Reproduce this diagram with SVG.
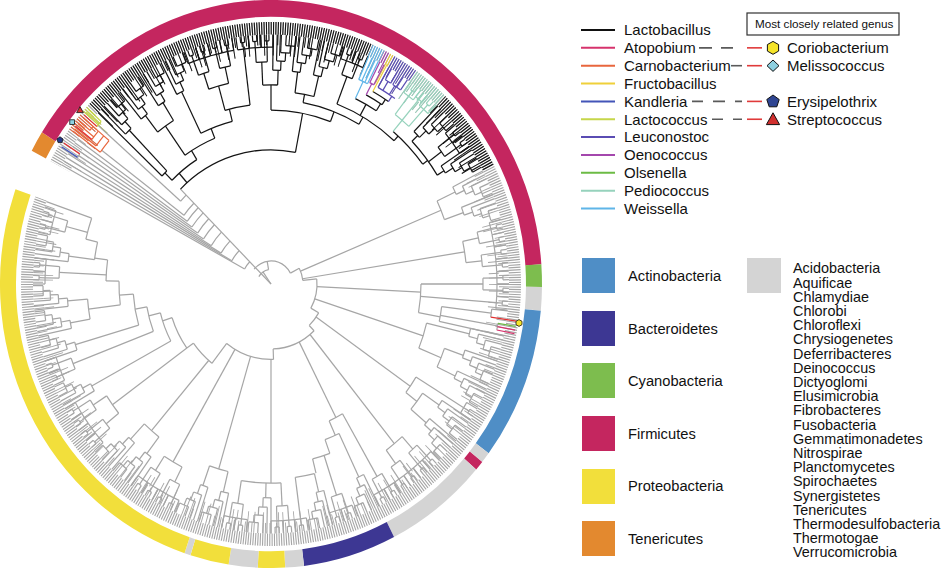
<svg xmlns="http://www.w3.org/2000/svg" width="946" height="568" viewBox="0 0 946 568">
<style>
text{font-family:"Liberation Sans",Arial,Helvetica,sans-serif;fill:#111}
.lg{font-size:15px}
.ph{font-size:14.7px}
.sm{font-size:14.4px}
.g{stroke:#a6a6a6}
.k{stroke:#141414}
.dg{stroke:#5a5a5a;stroke-width:1.6;fill:none}
.dr{stroke:#e03a3a;stroke-width:1.6;fill:none}
.mk{stroke:#111;stroke-width:1}
.mt{stroke:#111;stroke-width:0.8}
</style>
<defs>
<g id="m2"><circle r="230" pathLength="360" stroke-dasharray="2 360"/><path d="M230 0H238"/><path d="M230 0H238" transform="rotate(1)"/><path d="M230 0H238" transform="rotate(2)"/></g>
<g id="m3"><circle r="226" pathLength="360" stroke-dasharray="3 360"/><path d="M226 0H238"/><path d="M226 0H232" transform="rotate(1.5)"/><circle r="232" pathLength="360" stroke-dasharray="1 360" transform="rotate(1)"/><path d="M232 0H238" transform="rotate(1)"/><path d="M232 0H238" transform="rotate(2)"/><path d="M226 0H238" transform="rotate(3)"/></g>
<g id="m6"><circle r="212" pathLength="360" stroke-dasharray="3 360" transform="rotate(1.5)"/><path d="M212 0H226" transform="rotate(1.5)"/><path d="M212 0H226" transform="rotate(4.5)"/><use href="#m3"/><use href="#m3" transform="rotate(3)"/></g>
<g id="m12"><circle r="196" pathLength="360" stroke-dasharray="6 360" transform="rotate(3)"/><path d="M196 0H212" transform="rotate(3)"/><path d="M196 0H212" transform="rotate(9)"/><use href="#m6"/><use href="#m6" transform="rotate(6)"/></g>
<g id="l6"><circle r="204" pathLength="360" stroke-dasharray="2.2 360"/><path d="M204 0H238"/><path d="M204 0H213" transform="rotate(2.2)"/><circle r="213" pathLength="360" stroke-dasharray="2.3 360" transform="rotate(1)"/><path d="M213 0H238" transform="rotate(1)"/><path d="M213 0H221" transform="rotate(3.3)"/><circle r="221" pathLength="360" stroke-dasharray="2.4 360" transform="rotate(2)"/><path d="M221 0H238" transform="rotate(2)"/><path d="M221 0H228" transform="rotate(4.4)"/><circle r="228" pathLength="360" stroke-dasharray="2.4 360" transform="rotate(3.2)"/><path d="M228 0H238" transform="rotate(3.2)"/><path d="M228 0H238" transform="rotate(5.6)"/></g>
<g id="l12"><circle r="184" pathLength="360" stroke-dasharray="6 360" transform="rotate(1.5)"/><path d="M184 0H204" transform="rotate(1.5)"/><path d="M184 0H204" transform="rotate(7.5)"/><use href="#l6"/><use href="#l6" transform="rotate(6)"/></g>
<g id="fr" fill="none">
<circle r="244" stroke-width="12" pathLength="360" stroke-dasharray="0.26 0.3"/>
<circle r="233" stroke-width="10" pathLength="360" stroke-dasharray="0.22 0.34 0.22 0.9 0.22 0.34 0.22 1.46 0.22 0.9 0.22 0.34 0.22 2.02"/>
<circle r="223" stroke-width="10" pathLength="360" stroke-dasharray="0.22 1.46 0.22 2.58 0.22 0.9 0.22 3.7 0.22 2.02"/>
</g>
<mask id="mG" maskUnits="userSpaceOnUse" x="-300" y="-300" width="600" height="600"><circle r="235" fill="none" stroke="#fff" stroke-width="40" pathLength="360" stroke-dasharray="351.5 360" transform="rotate(-152)"/></mask>
<mask id="mK" maskUnits="userSpaceOnUse" x="-300" y="-300" width="600" height="600"><circle r="235" fill="none" stroke="#fff" stroke-width="40" pathLength="360" stroke-dasharray="70.8 360" transform="rotate(-136.8)"/><circle r="235" fill="none" stroke="#fff" stroke-width="40" pathLength="360" stroke-dasharray="18.8 360" transform="rotate(-45.8)"/></mask>
<mask id="mW" maskUnits="userSpaceOnUse" x="-300" y="-300" width="600" height="600"><circle r="235" fill="none" stroke="#fff" stroke-width="40" pathLength="360" stroke-dasharray="3 360" transform="rotate(-66)"/></mask>
<mask id="mO" maskUnits="userSpaceOnUse" x="-300" y="-300" width="600" height="600"><circle r="235" fill="none" stroke="#fff" stroke-width="40" pathLength="360" stroke-dasharray="1.4 360" transform="rotate(-63)"/></mask>
<mask id="mF" maskUnits="userSpaceOnUse" x="-300" y="-300" width="600" height="600"><circle r="235" fill="none" stroke="#fff" stroke-width="40" pathLength="360" stroke-dasharray="1 360" transform="rotate(-61.6)"/></mask>
<mask id="mL" maskUnits="userSpaceOnUse" x="-300" y="-300" width="600" height="600"><circle r="235" fill="none" stroke="#fff" stroke-width="40" pathLength="360" stroke-dasharray="6.2 360" transform="rotate(-60.6)"/></mask>
<mask id="mP" maskUnits="userSpaceOnUse" x="-300" y="-300" width="600" height="600"><circle r="235" fill="none" stroke="#fff" stroke-width="40" pathLength="360" stroke-dasharray="8.6 360" transform="rotate(-54.4)"/></mask>
<mask id="mC" maskUnits="userSpaceOnUse" x="-300" y="-300" width="600" height="600"><circle r="235" fill="none" stroke="#fff" stroke-width="40" pathLength="360" stroke-dasharray="4.2 360" transform="rotate(-143.8)"/></mask>
<mask id="mLc" maskUnits="userSpaceOnUse" x="-300" y="-300" width="600" height="600"><circle r="235" fill="none" stroke="#fff" stroke-width="40" pathLength="360" stroke-dasharray="1.8 360" transform="rotate(-139)"/></mask>
</defs>

<g id="ring" transform="translate(271,284) scale(1,1.048)" fill="none" stroke-width="16">
<circle r="263" pathLength="360" stroke="#e3892f" stroke-dasharray="4.3 360" transform="rotate(-152)"/>
<circle r="263" pathLength="360" stroke="#c4265f" stroke-dasharray="143.7 360" transform="rotate(-147.7)"/>
<circle r="263" pathLength="360" stroke="#7dbd4e" stroke-dasharray="4.6 360" transform="rotate(-4)"/>
<circle r="263" pathLength="360" stroke="#d4d4d4" stroke-dasharray="4.8 360" transform="rotate(0.6)"/>
<circle r="263" pathLength="360" stroke="#4f8ec6" stroke-dasharray="31.2 360" transform="rotate(5.4)"/>
<circle r="263" pathLength="360" stroke="#d4d4d4" stroke-dasharray="2.2 360" transform="rotate(36.6)"/>
<circle r="263" pathLength="360" stroke="#c4265f" stroke-dasharray="2 360" transform="rotate(38.8)"/>
<circle r="263" pathLength="360" stroke="#d4d4d4" stroke-dasharray="22.2 360" transform="rotate(40.8)"/>
<circle r="263" pathLength="360" stroke="#3d3793" stroke-dasharray="20 360" transform="rotate(63)"/>
<circle r="263" pathLength="360" stroke="#d4d4d4" stroke-dasharray="4 360" transform="rotate(83)"/>
<circle r="263" pathLength="360" stroke="#f2df3b" stroke-dasharray="5.8 360" transform="rotate(87)"/>
<circle r="263" pathLength="360" stroke="#d4d4d4" stroke-dasharray="6.2 360" transform="rotate(92.8)"/>
<circle r="263" pathLength="360" stroke="#f2df3b" stroke-dasharray="8.3 360" transform="rotate(99)"/>
<circle r="263" pathLength="360" stroke="#d4d4d4" stroke-dasharray="1.3 360" transform="rotate(107.3)"/>
<circle r="263" pathLength="360" stroke="#f2df3b" stroke-dasharray="90.9 360" transform="rotate(108.6)"/>
</g>

<g id="fringe" transform="translate(271,284) scale(1,1.048)">
<use href="#fr" class="g" mask="url(#mG)"/>
<use href="#fr" class="k" mask="url(#mK)"/>
<use href="#fr" stroke="#5fb5e8" mask="url(#mW)"/>
<use href="#fr" stroke="#a447ad" mask="url(#mO)"/>
<use href="#fr" stroke="#efd03a" mask="url(#mF)"/>
<use href="#fr" stroke="#5a4cb3" mask="url(#mL)"/>
<use href="#fr" stroke="#96d2bc" mask="url(#mP)"/>
<use href="#fr" stroke="#e8663d" mask="url(#mC)"/>
<use href="#fr" stroke="#c6d64a" mask="url(#mLc)"/>
</g>

<g id="tree" transform="translate(271,284) scale(1,1.048)" fill="none" stroke-width="1.2">
<g class="g">
<circle r="22" pathLength="360" stroke-dasharray="112 360" transform="rotate(-140)"/>
<circle r="14" pathLength="360" stroke-dasharray="50 360" transform="rotate(-150)"/>
<path d="M14 0H22" transform="rotate(-100)"/>
<path d="M0 0H14" transform="rotate(-125)"/>
<path d="M0 0H128" transform="rotate(-135)"/>
<circle r="30" pathLength="360" stroke-dasharray="16.5 360" transform="rotate(-151.5)"/><path d="M30 0H238" transform="rotate(-151.5)"/>
<circle r="45" pathLength="360" stroke-dasharray="15.5 360" transform="rotate(-150.5)"/><path d="M45 0H238" transform="rotate(-150.5)"/>
<circle r="58" pathLength="360" stroke-dasharray="14.5 360" transform="rotate(-149.5)"/><path d="M58 0H238" transform="rotate(-149.5)"/>
<circle r="70" pathLength="360" stroke-dasharray="13.5 360" transform="rotate(-148.5)"/><path d="M70 0H238" transform="rotate(-148.5)"/>
<circle r="80" pathLength="360" stroke-dasharray="12.5 360" transform="rotate(-147.5)"/><path d="M80 0H228" transform="rotate(-147.5)"/>
<circle r="228" pathLength="360" stroke-dasharray="1 360" transform="rotate(-148)"/>
<circle r="88" pathLength="360" stroke-dasharray="11.5 360" transform="rotate(-146.5)"/><path d="M88 0H238" transform="rotate(-146.5)"/>
<circle r="96" pathLength="360" stroke-dasharray="10.5 360" transform="rotate(-145.5)"/><path d="M96 0H238" transform="rotate(-145.5)"/>
<circle r="103" pathLength="360" stroke-dasharray="9.5 360" transform="rotate(-144.5)"/><path d="M103 0H238" transform="rotate(-144.5)"/>
<circle r="109" pathLength="360" stroke-dasharray="8 360" transform="rotate(-143)"/><path d="M109 0H212" transform="rotate(-143)"/>
<circle r="120" pathLength="360" stroke-dasharray="3.8 360" transform="rotate(-138.8)"/><path d="M120 0H230" transform="rotate(-138.8)"/>

<path d="M22 0H32" transform="rotate(-28)"/>
<circle r="32" pathLength="360" stroke-dasharray="22 360" transform="rotate(-28)"/>
<path d="M32 0H184" transform="rotate(-22.5)"/><use href="#l12" transform="rotate(-27)"/>
<path d="M32 0H196" transform="rotate(-9)"/><use href="#m12" transform="rotate(-15)"/>
<path d="M32 0H46" transform="rotate(-6)"/>
<circle r="46" pathLength="360" stroke-dasharray="36 360" transform="rotate(-6)"/>
<path d="M46 0H150" transform="rotate(3)"/>
<circle r="150" pathLength="360" stroke-dasharray="10.5 360"/>
<path d="M150 0H212"/><use href="#m6" transform="rotate(-3)"/>
<path d="M150 0H226" transform="rotate(4.5)"/><use href="#m3" transform="rotate(3)"/>
<path d="M150 0H172" transform="rotate(10.5)"/>
<circle r="172" pathLength="360" stroke-dasharray="4.8 360" transform="rotate(7.2)"/>
<path d="M172 0H222" transform="rotate(7.2)"/>
<circle r="222" pathLength="360" stroke-dasharray="2 360" transform="rotate(6.2)"/>
<path d="M222 0H238" transform="rotate(6.2)"/>
<path d="M172 0H230" transform="rotate(10)"/>
<circle r="230" pathLength="360" stroke-dasharray="1.6 360" transform="rotate(9.4)"/>
<path d="M172 0H238" transform="rotate(12)"/>
<path d="M46 0H160" transform="rotate(18)"/>
<circle r="160" pathLength="360" stroke-dasharray="9 360" transform="rotate(13.5)"/>
<path d="M160 0H204" transform="rotate(13.5)"/><use href="#l6" transform="rotate(12)"/>
<path d="M160 0H184" transform="rotate(22.5)"/><use href="#l12" transform="rotate(18)"/>
<path d="M46 0H55" transform="rotate(30)"/>
<circle r="55" pathLength="360" stroke-dasharray="16 360" transform="rotate(30)"/>
<path d="M55 0H170" transform="rotate(35)"/>
<circle r="170" pathLength="360" stroke-dasharray="6 360" transform="rotate(31.5)"/>
<path d="M170 0H226" transform="rotate(31.5)"/><use href="#m3" transform="rotate(30)"/>
<path d="M170 0H184" transform="rotate(37.5)"/><use href="#l12" transform="rotate(33)"/>
<path d="M55 0H62" transform="rotate(46)"/>
<circle r="62" pathLength="360" stroke-dasharray="42 360" transform="rotate(46)"/>
<path d="M62 0H196" transform="rotate(51)"/><use href="#m12" transform="rotate(45)"/>
<path d="M62 0H143" transform="rotate(63)"/>
<circle r="143" pathLength="360" stroke-dasharray="6 360" transform="rotate(60)"/>
<path d="M143 0H212" transform="rotate(60)"/><use href="#m6" transform="rotate(57)"/>
<path d="M143 0H158" transform="rotate(66)"/>
<circle r="158" pathLength="360" stroke-dasharray="5.5 360" transform="rotate(64.5)"/>
<path d="M158 0H204" transform="rotate(64.5)"/><use href="#l6" transform="rotate(63)"/>
<path d="M158 0H172" transform="rotate(70)"/>
<circle r="172" pathLength="360" stroke-dasharray="6 360" transform="rotate(70)"/>
<path d="M172 0H212" transform="rotate(72)"/><use href="#m6" transform="rotate(69)"/>
<path d="M172 0H186" transform="rotate(76)"/>
<circle r="186" pathLength="360" stroke-dasharray="6 360" transform="rotate(76.5)"/>
<path d="M186 0H204" transform="rotate(76.5)"/><use href="#l6" transform="rotate(75)"/>
<path d="M186 0H226" transform="rotate(82.5)"/><use href="#m3" transform="rotate(81)"/>
<path d="M62 0H72" transform="rotate(88)"/>
<circle r="72" pathLength="360" stroke-dasharray="40 360" transform="rotate(88)"/>
<path d="M72 0H190" transform="rotate(90)"/>
<circle r="190" pathLength="360" stroke-dasharray="12 360" transform="rotate(87)"/>
<path d="M190 0H212" transform="rotate(87)"/><use href="#m6" transform="rotate(84)"/>
<path d="M190 0H204" transform="rotate(91.5)"/><use href="#l6" transform="rotate(90)"/>
<path d="M190 0H212" transform="rotate(99)"/><use href="#m6" transform="rotate(96)"/>
<path d="M72 0H184" transform="rotate(106.5)"/><use href="#l12" transform="rotate(102)"/>
<path d="M72 0H196" transform="rotate(120)"/><use href="#m12" transform="rotate(114)"/>
<path d="M72 0H96" transform="rotate(128)"/>
<circle r="96" pathLength="360" stroke-dasharray="16 360" transform="rotate(128)"/>
<path d="M96 0H184" transform="rotate(130.5)"/><use href="#l12" transform="rotate(126)"/>
<path d="M96 0H104" transform="rotate(144)"/>
<circle r="104" pathLength="360" stroke-dasharray="18 360" transform="rotate(144)"/>
<path d="M104 0H196" transform="rotate(144)"/><use href="#m12" transform="rotate(138)"/>
<path d="M104 0H114" transform="rotate(162)"/>
<circle r="114" pathLength="360" stroke-dasharray="14.5 360" transform="rotate(151.5)"/>
<path d="M114 0H204" transform="rotate(151.5)"/><use href="#l6" transform="rotate(150)"/>
<path d="M114 0H126" transform="rotate(166)"/>
<circle r="126" pathLength="360" stroke-dasharray="11 360" transform="rotate(159)"/>
<path d="M126 0H212" transform="rotate(159)"/><use href="#m6" transform="rotate(156)"/>
<path d="M126 0H138" transform="rotate(170)"/>
<circle r="138" pathLength="360" stroke-dasharray="12.5 360" transform="rotate(163.5)"/>
<path d="M138 0H204" transform="rotate(163.5)"/><use href="#l6" transform="rotate(162)"/>
<path d="M138 0H152" transform="rotate(176)"/>
<circle r="152" pathLength="360" stroke-dasharray="8.5 360" transform="rotate(172.5)"/>
<path d="M152 0H184" transform="rotate(172.5)"/><use href="#l12" transform="rotate(168)"/>
<path d="M152 0H165" transform="rotate(181)"/>
<circle r="165" pathLength="360" stroke-dasharray="7 360" transform="rotate(181)"/>
<path d="M165 0H212" transform="rotate(183)"/><use href="#m6" transform="rotate(180)"/>
<path d="M165 0H178" transform="rotate(188)"/>
<circle r="178" pathLength="360" stroke-dasharray="5.5 360" transform="rotate(187.5)"/>
<path d="M178 0H204" transform="rotate(187.5)"/><use href="#l6" transform="rotate(186)"/>
<path d="M178 0H190" transform="rotate(193)"/>
<circle r="190" pathLength="360" stroke-dasharray="6.3 360" transform="rotate(193)"/>
<path d="M190 0H212" transform="rotate(195)"/><use href="#m6" transform="rotate(192)"/>
<path d="M190 0H238" transform="rotate(199.3)"/>
</g>

<g class="k">
<circle r="128" pathLength="360" stroke-dasharray="56 360" transform="rotate(-135)"/>
<path d="M128 0H140" transform="rotate(-131)"/>
<circle r="140" pathLength="360" stroke-dasharray="13 360" transform="rotate(-135)"/>
<path d="M140 0H150" transform="rotate(-135)"/>
<circle r="150" pathLength="360" stroke-dasharray="2.6 360" transform="rotate(-136.6)"/>
<path d="M150 0H238" transform="rotate(-136.6)"/>
<path d="M150 0H204" transform="rotate(-134)"/><use href="#l6" transform="rotate(-135.5)"/>
<path d="M140 0H150" transform="rotate(-122)"/>
<circle r="150" pathLength="360" stroke-dasharray="13 360" transform="rotate(-125)"/>
<path d="M150 0H184" transform="rotate(-125)"/><use href="#l12" transform="rotate(-129.5)"/>
<path d="M150 0H160" transform="rotate(-112)"/>
<circle r="160" pathLength="360" stroke-dasharray="12 360" transform="rotate(-116)"/>
<path d="M160 0H204" transform="rotate(-116)"/><use href="#l6" transform="rotate(-117.5)"/>
<path d="M160 0H172" transform="rotate(-104)"/>
<circle r="172" pathLength="360" stroke-dasharray="8.5 360" transform="rotate(-105.5)"/>
<path d="M172 0H196" transform="rotate(-105.5)"/><use href="#m12" transform="rotate(-111.5)"/>
<path d="M172 0H226" transform="rotate(-97)"/><use href="#m3" transform="rotate(-98.5)"/>
<path d="M128 0H166" transform="rotate(-79)"/>
<circle r="166" pathLength="360" stroke-dasharray="21 360" transform="rotate(-90)"/>
<path d="M166 0H190" transform="rotate(-90)"/>
<circle r="190" pathLength="360" stroke-dasharray="4.5 360" transform="rotate(-92.5)"/>
<path d="M190 0H212" transform="rotate(-92.5)"/><use href="#m6" transform="rotate(-95.5)"/>
<path d="M190 0H204" transform="rotate(-88)"/><use href="#l6" transform="rotate(-89.5)"/>
<path d="M166 0H176" transform="rotate(-69)"/>
<circle r="176" pathLength="360" stroke-dasharray="19.5 360" transform="rotate(-79.5)"/>
<path d="M176 0H184" transform="rotate(-79.5)"/><use href="#l12" transform="rotate(-84)"/>
<path d="M176 0H184" transform="rotate(-60)"/>
<circle r="184" pathLength="360" stroke-dasharray="21 360" transform="rotate(-69)"/>
<path d="M184 0H212" transform="rotate(-69)"/><use href="#m6" transform="rotate(-72)"/>
<path d="M184 0H196" transform="rotate(-61)"/>
<circle r="196" pathLength="360" stroke-dasharray="7 360" transform="rotate(-64.5)"/>
<path d="M196 0H204" transform="rotate(-57.5)"/>
<circle r="204" pathLength="360" stroke-dasharray="5.2 360" transform="rotate(-62.2)"/>
<path d="M204 0H210" transform="rotate(-57)"/>
<circle r="210" pathLength="360" stroke-dasharray="5 360" transform="rotate(-61)"/>
<path d="M184 0H190" transform="rotate(-48)"/>
<circle r="190" pathLength="360" stroke-dasharray="13 360" transform="rotate(-50)"/>
<path d="M190 0H196" transform="rotate(-37)"/>
<circle r="196" pathLength="360" stroke-dasharray="12 360" transform="rotate(-44)"/>
<path d="M196 0H204" transform="rotate(-44)"/><use href="#l6" transform="rotate(-45.5)"/>
<path d="M196 0H212" transform="rotate(-36.5)"/><use href="#m6" transform="rotate(-39.5)"/>
<path d="M196 0H204" transform="rotate(-32)"/><use href="#l6" transform="rotate(-33.5)"/>
</g>

<g stroke="#5fb5e8"><path d="M196 0H214" transform="rotate(-64.5)"/><circle r="214" pathLength="360" stroke-dasharray="2.6 360" transform="rotate(-65.8)"/><path d="M214 0H238" transform="rotate(-65.8)"/><path d="M214 0H238" transform="rotate(-64.9)"/><path d="M214 0H238" transform="rotate(-64)"/><path d="M214 0H238" transform="rotate(-63.2)"/></g>
<g stroke="#a447ad"><path d="M204 0H216" transform="rotate(-62.2)"/><circle r="216" pathLength="360" stroke-dasharray="1.2 360" transform="rotate(-62.8)"/><path d="M216 0H238" transform="rotate(-62.8)"/><path d="M216 0H238" transform="rotate(-61.6)"/></g>
<g stroke="#efd03a"><path d="M210 0H240" transform="rotate(-61)"/></g>
<g stroke="#5a4cb3"><path d="M210 0H216" transform="rotate(-56)"/><circle r="216" pathLength="360" stroke-dasharray="5.3 360" transform="rotate(-60.3)"/><path d="M216 0H238" transform="rotate(-60.3)"/><path d="M216 0H226" transform="rotate(-58.8)"/><circle r="226" pathLength="360" stroke-dasharray="1.6 360" transform="rotate(-59.6)"/><path d="M226 0H238" transform="rotate(-59.6)"/><path d="M226 0H238" transform="rotate(-58)"/><path d="M216 0H226" transform="rotate(-56.8)"/><circle r="226" pathLength="360" stroke-dasharray="2.4 360" transform="rotate(-57.4)"/><path d="M226 0H238" transform="rotate(-57.4)"/><path d="M226 0H238" transform="rotate(-56.2)"/><path d="M226 0H238" transform="rotate(-55)"/></g>
<g stroke="#96d2bc"><path d="M190 0H204" transform="rotate(-50)"/><circle r="204" pathLength="360" stroke-dasharray="5 360" transform="rotate(-52.5)"/><path d="M204 0H226" transform="rotate(-52.5)"/><use href="#m3" transform="rotate(-54)"/><path d="M204 0H230" transform="rotate(-50)"/><use href="#m2" transform="rotate(-51)"/><path d="M204 0H226" transform="rotate(-47.5)"/><use href="#m3" transform="rotate(-49)"/></g>
<g stroke="#e8663d"><circle r="212" pathLength="360" stroke-dasharray="3.8 360" transform="rotate(-143.6)"/><path d="M212 0H246" transform="rotate(-143.6)"/><path d="M212 0H219" transform="rotate(-139.8)"/><circle r="219" pathLength="360" stroke-dasharray="3.2 360" transform="rotate(-143)"/><path d="M219 0H246" transform="rotate(-143)"/><path d="M219 0H226" transform="rotate(-139.8)"/><circle r="226" pathLength="360" stroke-dasharray="2.6 360" transform="rotate(-142.4)"/><path d="M226 0H246" transform="rotate(-141.6)"/><path d="M226 0H233" transform="rotate(-139.8)"/><circle r="233" pathLength="360" stroke-dasharray="1.2 360" transform="rotate(-141)"/><path d="M233 0H246" transform="rotate(-141)"/><path d="M233 0H246" transform="rotate(-139.8)"/></g>
<g stroke="#c6d64a"><circle r="230" pathLength="360" stroke-dasharray="1.6 360" transform="rotate(-139.2)"/><path d="M230 0H247" transform="rotate(-138.4)"/><path d="M230 0H247" transform="rotate(-137.6)"/></g>
<g stroke="#4355b8"><path d="M228 0H247" transform="rotate(-148)"/></g>
<g stroke="#e03030"><path d="M228 0H247" transform="rotate(-147)"/><path d="M226 0H247" transform="rotate(-142.4)"/><path d="M230 0H247" transform="rotate(-139.2)"/><path d="M222 0H248" transform="rotate(8.2)"/></g>
<g stroke="#6cbb45"><path d="M230 0H248" transform="rotate(9.4)"/></g>
<g stroke="#d6336c"><path d="M230 0H248" transform="rotate(10.2)"/><path d="M230 0H248" transform="rotate(11)"/></g>
</g>

<g id="tree-markers" class="mt">
<polygon points="80,106.6 83.4,112.6 76.6,112.6" fill="#d63030"/>
<rect x="69.8" y="119.8" width="4.6" height="4.6" fill="#8fd3e3"/>
<polygon points="60,136.8 63.1,139 61.9,142.6 58.1,142.6 56.9,139" fill="#263a8a"/>
<polygon points="519,319.6 522,321.3 522,324.7 519,326.4 516,324.7 516,321.3" fill="#f5e42a"/>
</g>

<g id="legend-genus">
<path d="M581 30H615" stroke="#111" stroke-width="2"/><text class="lg" x="624" y="35.3">Lactobacillus</text>
<path d="M581 47.85H615" stroke="#d6336c" stroke-width="2"/><text class="lg" x="624" y="53.1">Atopobium</text>
<path d="M581 65.7H615" stroke="#e8663d" stroke-width="2"/><text class="lg" x="624" y="71">Carnobacterium</text>
<path d="M581 83.55H615" stroke="#efd03a" stroke-width="2"/><text class="lg" x="624" y="88.8">Fructobacillus</text>
<path d="M581 101.4H615" stroke="#4355b8" stroke-width="2"/><text class="lg" x="624" y="106.7">Kandleria</text>
<path d="M581 119.25H615" stroke="#c6d64a" stroke-width="2"/><text class="lg" x="624" y="124.5">Lactococcus</text>
<path d="M581 137.1H615" stroke="#5a4cb3" stroke-width="2"/><text class="lg" x="624" y="142.4">Leuconostoc</text>
<path d="M581 154.95H615" stroke="#a447ad" stroke-width="2"/><text class="lg" x="624" y="160.2">Oenococcus</text>
<path d="M581 172.8H615" stroke="#6cbb45" stroke-width="2"/><text class="lg" x="624" y="178.1">Olsenella</text>
<path d="M581 190.65H615" stroke="#96d2bc" stroke-width="2"/><text class="lg" x="624" y="195.9">Pediococcus</text>
<path d="M581 208.5H615" stroke="#5fb5e8" stroke-width="2"/><text class="lg" x="624" y="213.8">Weissella</text>
</g>

<g id="legend-related">
<rect x="747" y="13" width="152" height="22" fill="none" stroke="#333" stroke-width="1.2"/>
<text x="755" y="27.6" style="font-size:11.7px">Most closely related genus</text>
<path class="dg" d="M699 47.85H712M721 47.85H733"/><path class="dr" d="M747 47.85H762"/>
<path class="dg" d="M731 65.7H742"/><path class="dr" d="M747 65.7H762"/>
<path class="dg" d="M692 101.4H703M713 101.4H725M735 101.4H742"/><path class="dr" d="M747 101.4H762"/>
<path class="dg" d="M712 119.25H723M733 119.25H742"/><path class="dr" d="M747 119.25H762"/>
<polygon class="mk" points="773,41.4 778.6,44.6 778.6,51.1 773,54.3 767.4,51.1 767.4,44.6" fill="#f5e42a"/>
<polygon class="mk" points="773,60 779,65.7 773,71.4 767,65.7" fill="#8dd0e0"/>
<polygon class="mk" points="773,95 779.2,99.5 776.8,106.8 769.2,106.8 766.8,99.5" fill="#2f4592"/>
<polygon class="mk" points="773,112.8 779.6,124.6 766.4,124.6" fill="#d1302e"/>
<text class="lg" x="787" y="53.1">Coriobacterium</text>
<text class="lg" x="787" y="71">Melissococcus</text>
<text class="lg" x="787" y="106.7">Erysipelothrix</text>
<text class="lg" x="787" y="124.5">Streptococcus</text>
</g>

<g id="legend-phylum">
<rect x="582" y="258" width="33" height="35" fill="#4f8ec6"/><text class="ph" x="628" y="280.5">Actinobacteria</text>
<rect x="582" y="311" width="33" height="35" fill="#3d3793"/><text class="ph" x="628" y="333.5">Bacteroidetes</text>
<rect x="582" y="363" width="33" height="35" fill="#7dbd4e"/><text class="ph" x="628" y="385.5">Cyanobacteria</text>
<rect x="582" y="416" width="33" height="35" fill="#c4265f"/><text class="ph" x="628" y="438.5">Firmicutes</text>
<rect x="582" y="469" width="33" height="35" fill="#f2df3b"/><text class="ph" x="628" y="491">Proteobacteria</text>
<rect x="582" y="521" width="33" height="35" fill="#e3892f"/><text class="ph" x="628" y="543.5">Tenericutes</text>
<rect x="747" y="258" width="34" height="35" fill="#d4d4d4"/>
<g class="sm">
<text x="793" y="273.3">Acidobacteria</text>
<text x="793" y="287.5">Aquificae</text>
<text x="793" y="301.7">Chlamydiae</text>
<text x="793" y="315.9">Chlorobi</text>
<text x="793" y="330.1">Chloroflexi</text>
<text x="793" y="344.3">Chrysiogenetes</text>
<text x="793" y="358.5">Deferribacteres</text>
<text x="793" y="372.7">Deinococcus</text>
<text x="793" y="386.9">Dictyoglomi</text>
<text x="793" y="401.1">Elusimicrobia</text>
<text x="793" y="415.3">Fibrobacteres</text>
<text x="793" y="429.5">Fusobacteria</text>
<text x="793" y="443.7">Gemmatimonadetes</text>
<text x="793" y="457.9">Nitrospirae</text>
<text x="793" y="472.1">Planctomycetes</text>
<text x="793" y="486.3">Spirochaetes</text>
<text x="793" y="500.5">Synergistetes</text>
<text x="793" y="514.7">Tenericutes</text>
<text x="793" y="528.9">Thermodesulfobacteria</text>
<text x="793" y="543.1">Thermotogae</text>
<text x="793" y="557.3">Verrucomicrobia</text>
</g>
</g>
</svg>
